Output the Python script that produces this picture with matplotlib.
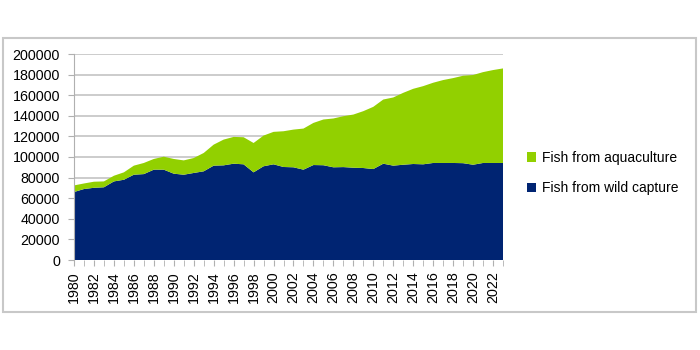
import matplotlib
matplotlib.use("Agg")
import matplotlib.pyplot as plt
from matplotlib.patches import Rectangle
from matplotlib.ticker import MultipleLocator

years = list(range(1980, 2024))

wild_capture = [
    66000, 68900, 70100, 70600, 76300, 77900, 82800, 83400, 87700, 87700,
    83800, 82800, 84500, 86100, 91600, 91900, 93500, 92900, 85100, 91000,
    92900, 90300, 90000, 87700, 92200, 92000, 90000, 90200, 89600, 89300,
    88300, 93500, 91600, 92500, 93200, 92900, 94200, 94200, 94200, 94000,
    92500, 94200, 94200, 94200,
]

total_production = [
    72400, 74300, 76000, 76300, 81800, 85100, 91600, 94200, 98100, 100300,
    98100, 96700, 99000, 103900, 112000, 116900, 119500, 119200, 113600, 120800,
    124400, 125000, 126600, 127600, 133100, 136400, 137400, 139600, 141200, 144500,
    148700, 155800, 157800, 162300, 166200, 168800, 172100, 174700, 176600, 178900,
    179600, 182400, 184400, 186000,
]

aquaculture = [t - w for t, w in zip(total_production, wild_capture)]

series_labels = ["Fish from wild capture", "Fish from aquaculture"]
series_colors = ["#002472", "#92D000"]

y_ticks = list(range(0, 200001, 20000))
x_tick_years = list(range(1980, 2023, 2))

plt.rcParams["font.family"] = ["Liberation Sans", "DejaVu Sans"]

fig = plt.figure(figsize=(7, 3.5), dpi=100)
fig.patch.set_facecolor("white")

# light grey frame around the whole chart
fig.patches.append(Rectangle((3 / 700, 1 - 312 / 350), 693 / 700, 274 / 350,
                             transform=fig.transFigure, fill=False,
                             edgecolor="#c8c8c8", linewidth=1.5))

ax = fig.add_axes([74 / 700, 1 - 260 / 350, 429 / 700, 206 / 350])

ax.stackplot(years, wild_capture, aquaculture,
             colors=series_colors, labels=series_labels, linewidth=0)

ax.set_xlim(1980, 2023)
ax.set_ylim(0, 200000)
ax.set_yticks(y_ticks)
ax.set_yticklabels([str(v) for v in y_ticks], fontsize=10.3)
ax.set_xticks(x_tick_years)
ax.set_xticklabels([str(y) for y in x_tick_years], rotation=90, fontsize=10.3)
ax.xaxis.set_minor_locator(MultipleLocator(1))

ax.grid(axis="y", color="#c4c4c4", linewidth=1.2, zorder=0)
ax.set_axisbelow(True)

for side in ["top", "right"]:
    ax.spines[side].set_visible(False)
ax.spines["bottom"].set_visible(False)
ax.spines["left"].set_color("#b0b0b0")
ax.tick_params(axis="y", length=4, color="#b0b0b0", pad=6)
ax.tick_params(axis="x", which="both", length=4, color="#b0b0b0", pad=4)

handles, labels = ax.get_legend_handles_labels()
leg = fig.legend(handles[::-1], labels[::-1], loc="center left",
                 bbox_to_anchor=(514 / 700, 1 - 173 / 350), frameon=False,
                 fontsize=10, handlelength=0.7, handleheight=0.7,
                 handletextpad=0.4, labelspacing=1.2)

fig.savefig("out.png", dpi=100, facecolor="white")
